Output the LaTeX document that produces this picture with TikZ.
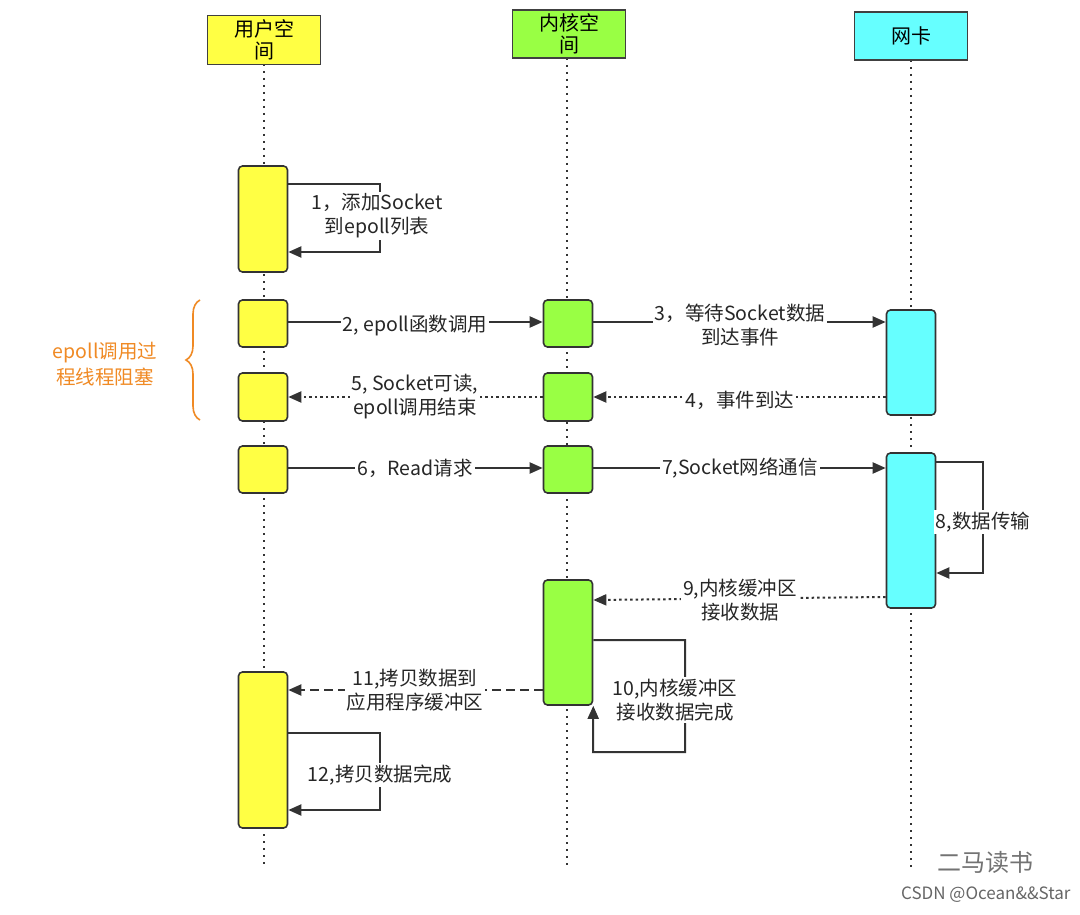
\documentclass[tikz,border=0pt]{standalone}
\usepackage{fontspec}
\setmainfont{Noto Sans CJK SC}
\usetikzlibrary{arrows.meta,decorations.pathreplacing}
\definecolor{yl}{HTML}{FFFF44}
\definecolor{gr}{HTML}{99FF44}
\definecolor{cy}{HTML}{66FFFF}
\definecolor{og}{HTML}{F08A24}
\begin{document}
\begin{tikzpicture}[x=1pt,y=-1pt,
 head/.style={draw=black!75,line width=1.6pt,minimum width=113pt,align=center,font=\fontsize{20}{22}\selectfont,inner sep=1pt},
 act/.style={draw=black!80,line width=1.6pt,rounded corners=4pt,minimum width=49pt},
 life/.style={line width=1.6pt,dash pattern=on 2pt off 5pt,black!80},
 msg/.style={line width=2pt,black!80,-{Triangle[length=13pt,width=11pt]}},
 dot/.style={msg,dash pattern=on 2.5pt off 3pt},
 dsh/.style={msg,dash pattern=on 9pt off 5pt},
 lbl/.style={fill=white,align=center,font=\fontsize{19.5}{24}\selectfont,text=black!85,inner sep=2pt}]
\useasboundingbox (0,0) rectangle (1080,915);
\fill[white] (0,0) rectangle (1080,915);
% lifelines
\draw[life] (264,64) -- (264,868);
\draw[life] (567,58) -- (567,868);
\draw[life] (911,60) -- (911,868);
\node[head,fill=yl,minimum height=49pt] (h1) at (264,40) {用户空\\间};
\node[head,fill=gr,minimum height=48pt] (h2) at (569,34) {内核空\\间};
\node[head,fill=cy,minimum height=48pt] (h3) at (911,36) {网卡};
% activations
\node[act,fill=yl,minimum height=106pt] (u1) at (263,219) {};
\node[act,fill=yl,minimum height=47pt] (u2) at (263,323.5) {};
\node[act,fill=yl,minimum height=48pt] (u3) at (263,397) {};
\node[act,fill=yl,minimum height=47pt] (u4) at (263,469.5) {};
\node[act,fill=yl,minimum height=156pt] (u5) at (263,750) {};
\node[act,fill=gr,minimum height=47pt] (k1) at (568,323.5) {};
\node[act,fill=gr,minimum height=48pt] (k2) at (568,397) {};
\node[act,fill=gr,minimum height=47pt] (k3) at (568,469.5) {};
\node[act,fill=gr,minimum height=125pt] (k4) at (568,642.5) {};
\node[act,fill=cy,minimum height=105pt] (n1) at (911,362.5) {};
\node[act,fill=cy,minimum height=155pt] (n2) at (911,530.5) {};
% 1
\coordinate (a1) at (380,184); \coordinate (b1) at (380,252);
\draw[msg] (u1.east|-a1) -- (a1) -- (b1) -- (u1.east|-b1);
\node[lbl] at (377,216) {1，添加Socket\\到epoll列表};
% 2,3
\draw[msg] (u2.east|-0,322) -- (k2.west|-0,322);
\node[lbl] at (415,326) {2, epoll函数调用};
\draw[msg] (k1.east|-0,322) -- (n1.west|-0,322);
\node[lbl] at (740,325) {3，等待Socket数据\\到达事件};
% 4,5
\draw[dot] (n1.west|-0,397) -- (k2.east|-0,397);
\node[lbl] at (740,400) {4，事件到达};
\draw[dot] (k2.west|-0,397) -- (u3.east|-0,397);
\node[lbl] at (415,397) {5, Socket可读,\\epoll调用结束};
% 6,7
\draw[msg] (u4.east|-0,468) -- (k3.west|-0,468);
\node[lbl] at (415,468) {6，Read请求};
\draw[msg] (k3.east|-0,468) -- (n2.west|-0,468);
\node[lbl] at (740,468) {7,Socket网络通信};
% 8
\coordinate (a8) at (983,462); \coordinate (b8) at (983,573);
\draw[msg] (n2.east|-a8) -- (a8) -- (b8) -- (n2.east|-b8);
\node[lbl] at (983,522) {8,数据传输};
% 9
\draw[dot] (n2.west|-0,597) -- (k4.east|-0,600);
\node[lbl] at (740,600) {9,内核缓冲区\\接收数据};
% 10
\coordinate (a10) at (685,640); \coordinate (b10) at (685,752); \coordinate (c10) at (593,752);
\draw[msg] (k4.east|-a10) -- (a10) -- (b10) -- (c10) -- (k4.south east);
\node[lbl] at (675,700) {10,内核缓冲区\\接收数据完成};
% 11
\draw[dsh] (k4.west|-0,690) -- (u5.east|-0,690);
\node[lbl] at (415,690) {11,拷贝数据到\\应用程序缓冲区};
% 12
\coordinate (a12) at (380,733); \coordinate (b12) at (380,810);
\draw[msg] (u5.east|-a12) -- (a12) -- (b12) -- (u5.east|-b12);
\node[lbl] at (380,775) {12,拷贝数据完成};
% brace
\coordinate (br1) at (200,300); \coordinate (br2) at (200,420);
\draw[og,line width=1.6pt,decorate,decoration={brace,amplitude=14pt,mirror}] (br1) -- (br2);
\node[align=center,text=og,font=\fontsize{19.5}{26}\selectfont] (bl) at (105,364) {epoll调用过\\程线程阻塞};
% watermark
\node[text=black!55,font=\fontsize{24}{26}\selectfont] (w1) at (985,862) {二马读书};
\node[text=black!60,font=\fontsize{17}{18}\selectfont,anchor=east] (w2) at (1074,895) {CSDN @Ocean\&\&Star};
\end{tikzpicture}
\end{document}
